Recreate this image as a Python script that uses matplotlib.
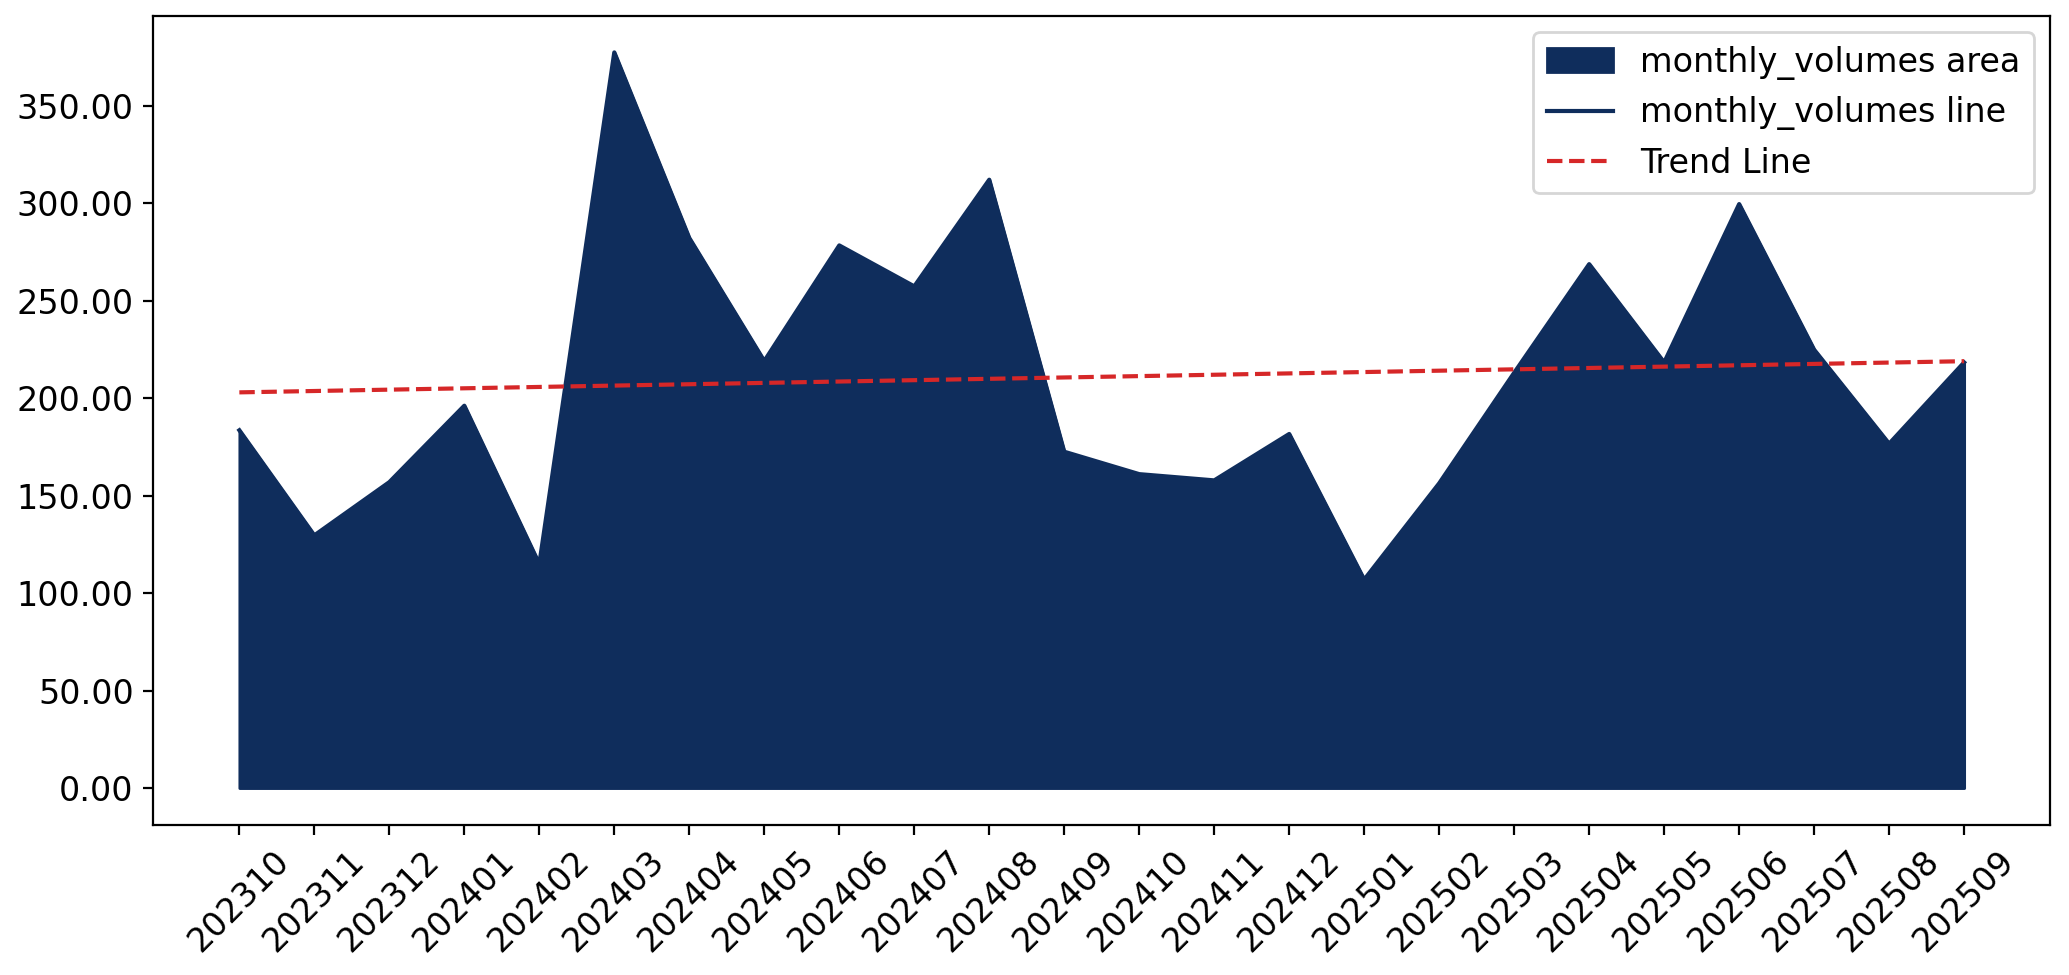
import matplotlib
matplotlib.use("Agg")
import matplotlib.pyplot as plt
import numpy as np

months = ["202310", "202311", "202312", "202401", "202402", "202403", "202404", "202405",
          "202406", "202407", "202408", "202409", "202410", "202411", "202412", "202501",
          "202502", "202503", "202504", "202505", "202506", "202507", "202508", "202509"]
monthly_volumes = [183.5, 129.6, 156.9, 196.1, 114.9, 377.3, 282.1, 219.0,
                   278.3, 257.3, 312.0, 172.5, 161.0, 157.8, 181.6, 106.9,
                   156.3, 213.0, 268.7, 218.3, 299.5, 224.8, 176.6, 218.3]

color = "#0f2d5c"
fig, ax = plt.subplots(figsize=(10.345, 4.875), dpi=200)
x = np.arange(len(months))
y = np.array(monthly_volumes)
ax.fill_between(x, y, color=color, label="monthly_volumes area")
ax.plot(x, y, color=color, label="monthly_volumes line")
coef = np.polyfit(x, y, 1)
ax.plot(x, np.polyval(coef, x), "--", color="#d62728", label="Trend Line")
ax.set_xticks(x)
ax.set_xticklabels(months, rotation=45, fontsize=12)
ax.tick_params(axis="y", labelsize=12)
ax.yaxis.set_major_formatter(matplotlib.ticker.FormatStrFormatter("%.2f"))
ax.legend(fontsize=12, loc="upper right")
fig.subplots_adjust(left=0.074, right=0.991, top=0.984, bottom=0.154)
fig.savefig("out.png", dpi=200)
